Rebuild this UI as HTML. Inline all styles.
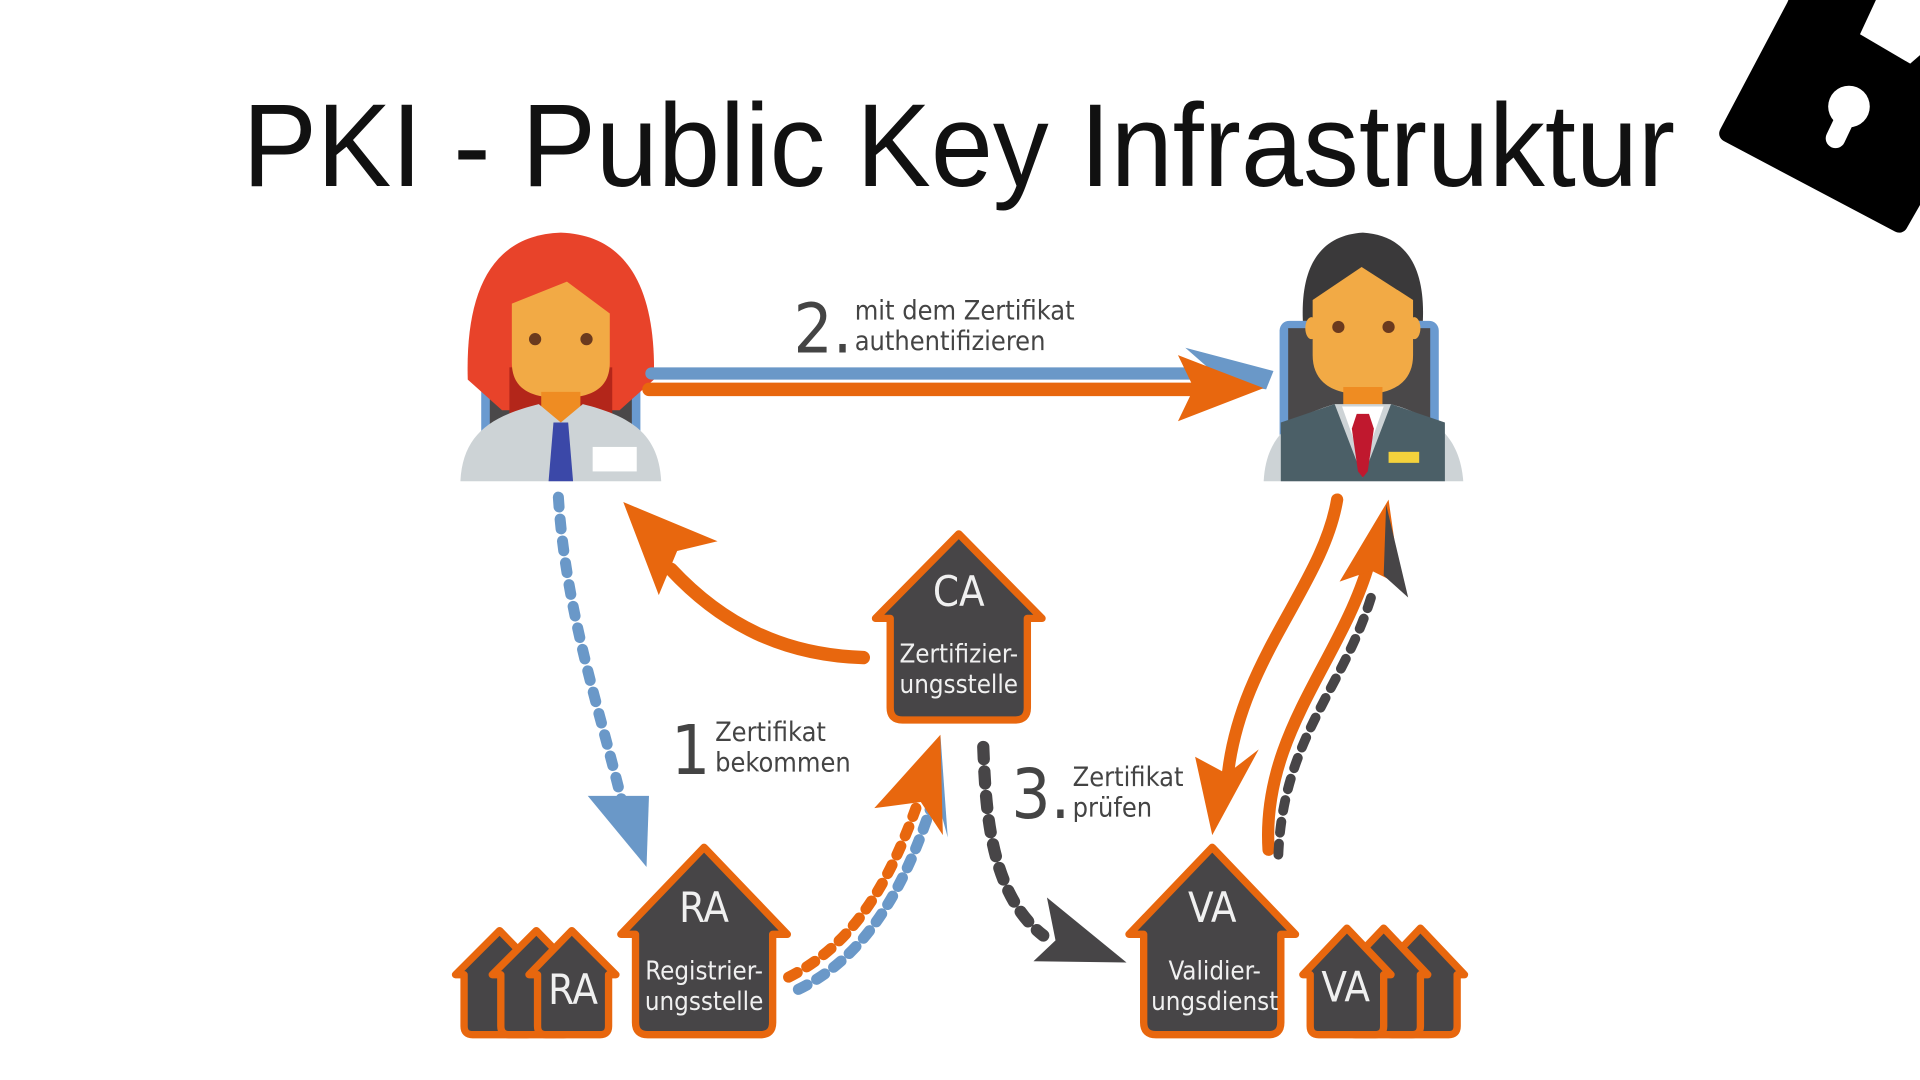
<!DOCTYPE html>
<html><head><meta charset="utf-8"><style>
html,body{margin:0;padding:0;background:#fff;overflow:hidden}
svg{display:block}
text{font-family:"Liberation Sans","DejaVu Sans",sans-serif}
.s{font-family:"DejaVu Sans Condensed","DejaVu Sans",sans-serif}
</style></head><body>
<svg width="1920" height="1080" viewBox="0 0 1568 882" xmlns="http://www.w3.org/2000/svg">
<rect width="1568" height="882" fill="#fff"/>
<!-- lock -->
<polygon points="1466,5 1411,109 1551,183 1650,10 1500,-75" fill="#000" stroke="#000" stroke-width="14" stroke-linejoin="round"/>
<path d="M1519,28 L1532,0 L1568,0 L1568,45 L1560,52 Z" fill="#fff"/>
<circle cx="1510" cy="87" r="17" fill="#fff"/>
<line x1="1509" y1="92" x2="1499" y2="113" stroke="#fff" stroke-width="16" stroke-linecap="round"/>
<!-- title -->
<text x="198" y="152" font-size="96" fill="#111" textLength="1170" lengthAdjust="spacingAndGlyphs">PKI - Public Key Infrastruktur</text>

<!-- woman -->
<g>
<rect x="393" y="300" width="130" height="60" fill="#6a9ad0"/>
<rect x="400" y="300" width="116" height="60" fill="#4a4849"/>
<path d="M458,190 C400,192 380,240 382,310 L410,335 L506,335 L534,310 C536,240 515,192 458,190Z" fill="#e8432a"/>
<rect x="416" y="300" width="84" height="40" fill="#b3261a"/>
<path d="M418,248 L463,230 L498,256 L498,296 C498,318 482,325 458,325 C434,325 418,318 418,296 Z" fill="#f2aa45"/>
<circle cx="437" cy="277" r="5" fill="#6b3a1e"/><circle cx="479" cy="277" r="5" fill="#6b3a1e"/>
<path d="M442,320 L474,320 L474,338 L458,350 L442,338Z" fill="#ef8c22"/>
<path d="M376,393 C378,355 400,340 440,330 L458,345 L476,330 C516,340 538,355 540,393 Z" fill="#cdd3d6"/>
<path d="M452,345 L464,345 L468,393 L448,393 Z" fill="#3b48a8"/>
<rect x="484" y="365" width="36" height="20" fill="#fff"/>
</g>
<!-- man -->
<g>
<rect x="1045" y="262" width="130" height="100" rx="8" fill="#6a9ad0"/>
<rect x="1052" y="268" width="116" height="94" fill="#4a4849"/>
<path d="M1113,190 C1080,192 1062,215 1064,262 L1162,262 C1164,215 1146,192 1113,190Z" fill="#3a393a"/>
<path d="M1072,245 L1112,218 L1154,245 L1154,290 C1154,312 1138,322 1113,322 C1088,322 1072,312 1072,290 Z" fill="#f2aa45"/>
<ellipse cx="1071" cy="268" rx="5" ry="9" fill="#f2aa45"/><ellipse cx="1155" cy="268" rx="5" ry="9" fill="#f2aa45"/>
<circle cx="1093" cy="267" r="5" fill="#6b3a1e"/><circle cx="1134" cy="267" r="5" fill="#6b3a1e"/>
<path d="M1097,316 L1129,316 L1129,332 L1113,345 L1097,332Z" fill="#ef8c22"/>
<path d="M1032,393 C1034,355 1056,340 1090,330 L1136,330 C1170,340 1192,355 1195,393 Z" fill="#cdd3d6"/>
<path d="M1046,393 L1046,345 L1090,330 L1113,390 L1136,330 L1180,345 L1180,393 Z" fill="#4b5f67"/>
<path d="M1096,332 L1130,332 L1113,380 Z" fill="#fff"/>
<path d="M1108,338 L1118,338 L1122,350 L1117,385 L1113,390 L1109,385 L1104,350 Z" fill="#c0182e"/>
<rect x="1134" y="369" width="25" height="9" fill="#f4d23c"/>
</g>

<!-- arrow 2 -->
<line x1="532" y1="305" x2="1000" y2="305" stroke="#6a98c8" stroke-width="10" stroke-linecap="round"/>
<polygon points="968,284 1040,303 1034,318 1000,312" fill="#6a98c8"/>
<line x1="530" y1="318" x2="1000" y2="318" stroke="#e8670e" stroke-width="11" stroke-linecap="round"/>
<polygon points="962,290 1032,317 962,344 975,317" fill="#e8670e"/>
<text x="648" y="288" font-size="56" fill="#444" class="s">2.</text>
<text x="698" y="261" font-size="22" fill="#444" class="s">mit dem Zertifikat</text>
<text x="698" y="286" font-size="22" fill="#444" class="s">authentifizieren</text>

<!-- 1: blue dashed -->
<path d="M456,406 C462,500 490,580 508,655" fill="none" stroke="#6a98c8" stroke-width="9" stroke-linecap="round" stroke-dasharray="8,10"/>
<polygon points="480,650 530,650 528,708" fill="#6a98c8"/>
<text x="548" y="632" font-size="56" fill="#444" class="s">1</text>
<text x="584" y="605" font-size="22" fill="#444" class="s">Zertifikat</text>
<text x="584" y="630" font-size="22" fill="#444" class="s">bekommen</text>

<!-- CA -> woman orange -->
<path d="M705,537 C640,535 590,510 548,465" fill="none" stroke="#e8670e" stroke-width="11" stroke-linecap="round"/>
<polygon points="509,410 586,442 553,450 538,486" fill="#e8670e"/>

<!-- RA -> CA dashed -->
<path d="M652,808 C710,780 740,720 760,660" fill="none" stroke="#6a98c8" stroke-width="9" stroke-linecap="round" stroke-dasharray="8,9"/>
<polygon points="762,640 768,600 774,684" fill="#6a98c8"/>
<path d="M644,798 C700,770 728,715 748,660" fill="none" stroke="#e8670e" stroke-width="9" stroke-linecap="round" stroke-dasharray="8,9"/>
<polygon points="714,660 768,600 770,682 752,655" fill="#e8670e"/>

<!-- 3: dark dashed -->
<path d="M803,610 C805,660 808,730 852,764" fill="none" stroke="#474547" stroke-width="10" stroke-linecap="round" stroke-dasharray="10,10"/>
<polygon points="855,733 920,786 844,785 862,768" fill="#474547"/>
<text x="826" y="668" font-size="56" fill="#444" class="s">3.</text>
<text x="876" y="642" font-size="22" fill="#444" class="s">Zertifikat</text>
<text x="876" y="667" font-size="22" fill="#444" class="s">prüfen</text>

<!-- man <-> VA -->
<path d="M1092,408 C1080,480 1010,540 1002,640" fill="none" stroke="#e8670e" stroke-width="10" stroke-linecap="round"/>
<polygon points="976,618 1002,632 1028,612 990,682" fill="#e8670e"/>
<path d="M1036,694 C1030,600 1095,540 1118,460" fill="none" stroke="#e8670e" stroke-width="10" stroke-linecap="round"/>
<polygon points="1094,475 1134,408 1144,478 1120,466" fill="#e8670e"/>
<path d="M1044,698 C1048,600 1100,560 1122,480" fill="none" stroke="#474547" stroke-width="8" stroke-linecap="round" stroke-dasharray="9,9"/>
<polygon points="1132,412 1150,488 1130,470" fill="#474547"/>

<!-- houses -->
<g stroke="#e8670e" stroke-width="6" stroke-linejoin="round" fill="#474547">
<path d="M783,436 L851,505 L839,505 L839,578 Q839,588 829,588 L737,588 Q727,588 727,578 L727,505 L715,505 Z"/>
<path d="M408,760 L443,796 L437,796 L437,838 Q437,845 430,845 L386,845 Q379,845 379,838 L379,796 L372,796 Z"/>
<path d="M438,760 L473,796 L467,796 L467,838 Q467,845 460,845 L416,845 Q409,845 409,838 L409,796 L402,796 Z"/>
<path d="M467,760 L503,796 L497,796 L497,838 Q497,845 490,845 L446,845 Q439,845 439,838 L439,796 L432,796 Z"/>
<path d="M575,692 L643,763 L631,763 L631,835 Q631,845 621,845 L529,845 Q519,845 519,835 L519,763 L507,763 Z"/>
<path d="M990,692 L1058,763 L1046,763 L1046,835 Q1046,845 1036,845 L944,845 Q934,845 934,835 L934,763 L922,763 Z"/>
<path d="M1160,758 L1196,796 L1190,796 L1190,838 Q1190,845 1183,845 L1137,845 Q1130,845 1130,838 L1130,796 L1124,796 Z"/>
<path d="M1130,758 L1166,796 L1160,796 L1160,838 Q1160,845 1153,845 L1107,845 Q1100,845 1100,838 L1100,796 L1094,796 Z"/>
<path d="M1100,758 L1136,796 L1130,796 L1130,838 Q1130,845 1123,845 L1077,845 Q1070,845 1070,838 L1070,796 L1064,796 Z"/>
</g>
<g fill="#f0f0f0" text-anchor="middle" class="s">
<text x="783" y="495" font-size="34" class="s">CA</text>
<text x="783" y="541" font-size="21" class="s">Zertifizier-</text>
<text x="783" y="566" font-size="21" class="s">ungsstelle</text>
<text x="468" y="820" font-size="34" class="s">RA</text>
<text x="575" y="753" font-size="34" class="s">RA</text>
<text x="575" y="800" font-size="21" class="s">Registrier-</text>
<text x="575" y="825" font-size="21" class="s">ungsstelle</text>
<text x="990" y="753" font-size="34" class="s">VA</text>
<text x="992" y="800" font-size="21" class="s">Validier-</text>
<text x="992" y="825" font-size="21" class="s">ungsdienst</text>
<text x="1099" y="818" font-size="34" class="s">VA</text>
</g>
</svg>
</body></html>
